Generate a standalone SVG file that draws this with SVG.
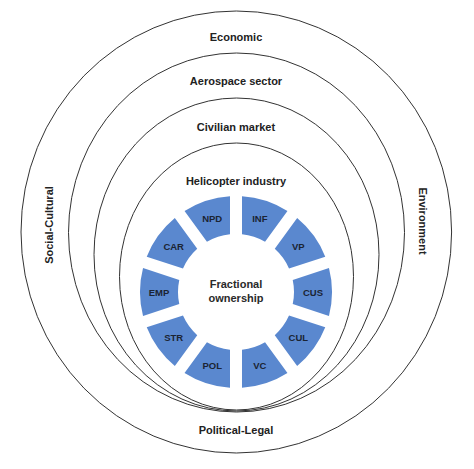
<svg xmlns="http://www.w3.org/2000/svg" width="474" height="469" viewBox="0 0 474 469">
<style>
.ring{fill:none;stroke:#333;stroke-width:1}
.hd{font-family:"Liberation Sans",Arial,sans-serif;font-weight:bold;font-size:11px;fill:#222;text-anchor:middle}
.seg{fill:#5A88CF}
.lb{font-family:"Liberation Sans",Arial,sans-serif;font-weight:bold;font-size:9.5px;fill:#1B2433;text-anchor:middle}
</style>
<defs>
<path id="sector" d="M6,-95.812 A96,96 0 0 1 51.463,-81.040 L29.054,-50.198 A58,58 0 0 0 6,-57.689 Z"/>
</defs>
<rect width="474" height="469" fill="#fff"/>
<g id="economic">
<ellipse class="ring" cx="236.3" cy="232" rx="215.3" ry="221"/>
<text class="hd" x="236" y="40.5">Economic</text>
<text class="hd" transform="translate(53,225) rotate(-90)">Social-Cultural</text>
<text class="hd" transform="translate(418.5,221) rotate(90)">Environment</text>
<text class="hd" x="236" y="434">Political-Legal</text>
</g>
<g id="aerospace">
<ellipse class="ring" cx="236.5" cy="232.5" rx="168" ry="179.5"/>
<text class="hd" x="236" y="85">Aerospace sector</text>
</g>
<g id="civilian">
<ellipse class="ring" cx="236.5" cy="254.5" rx="142.5" ry="156.5"/>
<text class="hd" x="236" y="130.5">Civilian market</text>
</g>
<g id="helicopter">
<ellipse class="ring" cx="236.5" cy="276.5" rx="117" ry="133.5"/>
<text class="hd" x="236" y="185">Helicopter industry</text>
</g>
<g id="INF"><use href="#sector" class="seg" transform="translate(236,292) rotate(0)"/><text class="lb" x="259.8" y="222.3">INF</text></g>
<g id="VP"><use href="#sector" class="seg" transform="translate(236,292) rotate(36)"/><text class="lb" x="298.3" y="250.2">VP</text></g>
<g id="CUS"><use href="#sector" class="seg" transform="translate(236,292) rotate(72)"/><text class="lb" x="313" y="295.5">CUS</text></g>
<g id="CUL"><use href="#sector" class="seg" transform="translate(236,292) rotate(108)"/><text class="lb" x="298.3" y="340.8">CUL</text></g>
<g id="VC"><use href="#sector" class="seg" transform="translate(236,292) rotate(144)"/><text class="lb" x="259.8" y="368.7">VC</text></g>
<g id="POL"><use href="#sector" class="seg" transform="translate(236,292) rotate(180)"/><text class="lb" x="212.2" y="368.7">POL</text></g>
<g id="STR"><use href="#sector" class="seg" transform="translate(236,292) rotate(216)"/><text class="lb" x="173.7" y="340.8">STR</text></g>
<g id="EMP"><use href="#sector" class="seg" transform="translate(236,292) rotate(252)"/><text class="lb" x="159" y="295.5">EMP</text></g>
<g id="CAR"><use href="#sector" class="seg" transform="translate(236,292) rotate(288)"/><text class="lb" x="173.7" y="250.2">CAR</text></g>
<g id="NPD"><use href="#sector" class="seg" transform="translate(236,292) rotate(324)"/><text class="lb" x="212.2" y="222.3">NPD</text></g>
<g id="center">
<text class="hd" x="236" y="288" style="font-weight:600;fill:#2a2a2a">Fractional</text>
<text class="hd" x="236" y="302" style="font-weight:600;fill:#2a2a2a">ownership</text>
</g>
<g id="connectors"/>
</svg>
